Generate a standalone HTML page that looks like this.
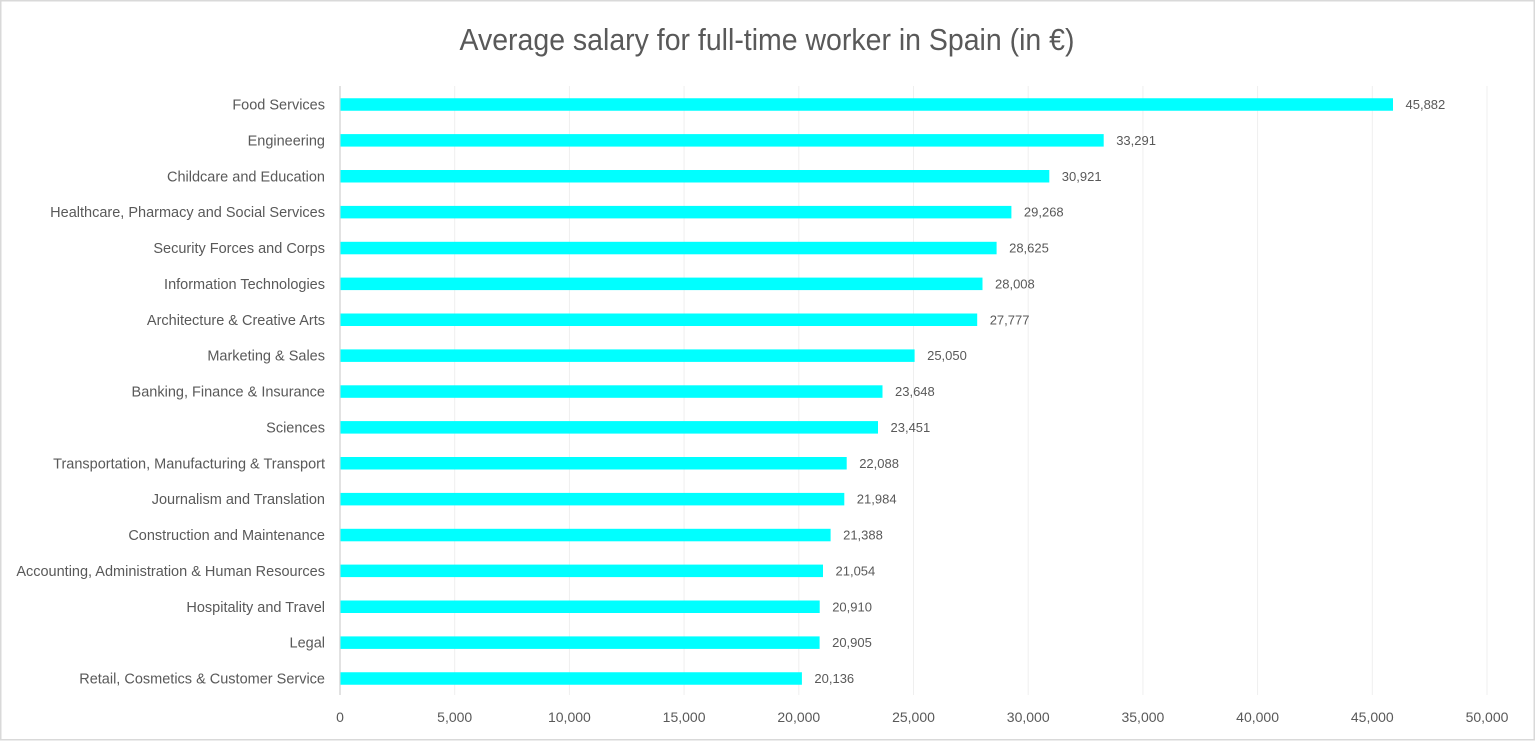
<!DOCTYPE html>
<html><head><meta charset="utf-8"><style>
html,body{margin:0;padding:0;background:#fff;}
svg{display:block;}
text{font-family:"Liberation Sans",sans-serif;fill:#595959;}
</style></head><body>
<svg width="1536" height="742" viewBox="0 0 1536 742" xmlns="http://www.w3.org/2000/svg">
<rect x="0" y="0" width="1536" height="742" fill="#fff"/>
<rect x="0.75" y="0.75" width="1533.5" height="739" fill="none" stroke="#d9d9d9" stroke-width="1.5"/>
<text x="767" y="50" font-size="31" text-anchor="middle" textLength="615" lengthAdjust="spacingAndGlyphs">Average salary for full-time worker in Spain (in €)</text>
<g stroke="#efefef" stroke-width="1">
<line x1="454.7" y1="86" x2="454.7" y2="695"/>
<line x1="569.4" y1="86" x2="569.4" y2="695"/>
<line x1="684.1" y1="86" x2="684.1" y2="695"/>
<line x1="798.8" y1="86" x2="798.8" y2="695"/>
<line x1="913.5" y1="86" x2="913.5" y2="695"/>
<line x1="1028.2" y1="86" x2="1028.2" y2="695"/>
<line x1="1142.9" y1="86" x2="1142.9" y2="695"/>
<line x1="1257.6" y1="86" x2="1257.6" y2="695"/>
<line x1="1372.3" y1="86" x2="1372.3" y2="695"/>
<line x1="1487" y1="86" x2="1487" y2="695"/>
</g>
<line x1="340" y1="86" x2="340" y2="695" stroke="#d9d9d9" stroke-width="1.5"/>
<g fill="#00ffff">
<rect x="340.5" y="98.25" width="1052.5" height="12.5"/>
<rect x="340.5" y="134.1" width="763.2" height="12.5"/>
<rect x="340.5" y="170.0" width="708.8" height="12.5"/>
<rect x="340.5" y="205.9" width="670.9" height="12.5"/>
<rect x="340.5" y="241.8" width="656.1" height="12.5"/>
<rect x="340.5" y="277.6" width="642.0" height="12.5"/>
<rect x="340.5" y="313.5" width="636.7" height="12.5"/>
<rect x="340.5" y="349.4" width="574.1" height="12.5"/>
<rect x="340.5" y="385.3" width="542.0" height="12.5"/>
<rect x="340.5" y="421.1" width="537.5" height="12.5"/>
<rect x="340.5" y="457.0" width="506.2" height="12.5"/>
<rect x="340.5" y="492.9" width="503.8" height="12.5"/>
<rect x="340.5" y="528.8" width="490.1" height="12.5"/>
<rect x="340.5" y="564.6" width="482.5" height="12.5"/>
<rect x="340.5" y="600.5" width="479.2" height="12.5"/>
<rect x="340.5" y="636.4" width="479.1" height="12.5"/>
<rect x="340.5" y="672.25" width="461.4" height="12.5"/>
</g>
<g font-size="14.5" text-anchor="end">
<text x="325" y="109.5">Food Services</text>
<text x="325" y="145.4">Engineering</text>
<text x="325" y="181.3">Childcare and Education</text>
<text x="325" y="217.1">Healthcare, Pharmacy and Social Services</text>
<text x="325" y="253.0">Security Forces and Corps</text>
<text x="325" y="288.9">Information Technologies</text>
<text x="325" y="324.8">Architecture &amp; Creative Arts</text>
<text x="325" y="360.6">Marketing &amp; Sales</text>
<text x="325" y="396.5">Banking, Finance &amp; Insurance</text>
<text x="325" y="432.4">Sciences</text>
<text x="325" y="468.3">Transportation, Manufacturing &amp; Transport</text>
<text x="325" y="504.1">Journalism and Translation</text>
<text x="325" y="540.0">Construction and Maintenance</text>
<text x="325" y="575.9">Accounting, Administration &amp; Human Resources</text>
<text x="325" y="611.8">Hospitality and Travel</text>
<text x="325" y="647.6">Legal</text>
<text x="325" y="683.5">Retail, Cosmetics &amp; Customer Service</text>
</g>
<g font-size="13" fill="#404040">
<text x="1405.5" y="109">45,882</text>
<text x="1116.2" y="144.9">33,291</text>
<text x="1061.8" y="180.8">30,921</text>
<text x="1023.9" y="216.6">29,268</text>
<text x="1009.1" y="252.5">28,625</text>
<text x="995.0" y="288.4">28,008</text>
<text x="989.7" y="324.3">27,777</text>
<text x="927.1" y="360.1">25,050</text>
<text x="895.0" y="396.0">23,648</text>
<text x="890.5" y="431.9">23,451</text>
<text x="859.2" y="467.8">22,088</text>
<text x="856.8" y="503.6">21,984</text>
<text x="843.1" y="539.5">21,388</text>
<text x="835.5" y="575.4">21,054</text>
<text x="832.2" y="611.3">20,910</text>
<text x="832.1" y="647.1">20,905</text>
<text x="814.4" y="683">20,136</text>
</g>
<g font-size="14" text-anchor="middle">
<text x="340" y="722">0</text>
<text x="454.7" y="722">5,000</text>
<text x="569.4" y="722">10,000</text>
<text x="684.1" y="722">15,000</text>
<text x="798.8" y="722">20,000</text>
<text x="913.5" y="722">25,000</text>
<text x="1028.2" y="722">30,000</text>
<text x="1142.9" y="722">35,000</text>
<text x="1257.6" y="722">40,000</text>
<text x="1372.3" y="722">45,000</text>
<text x="1487" y="722">50,000</text>
</g>
</svg>
</body></html>
